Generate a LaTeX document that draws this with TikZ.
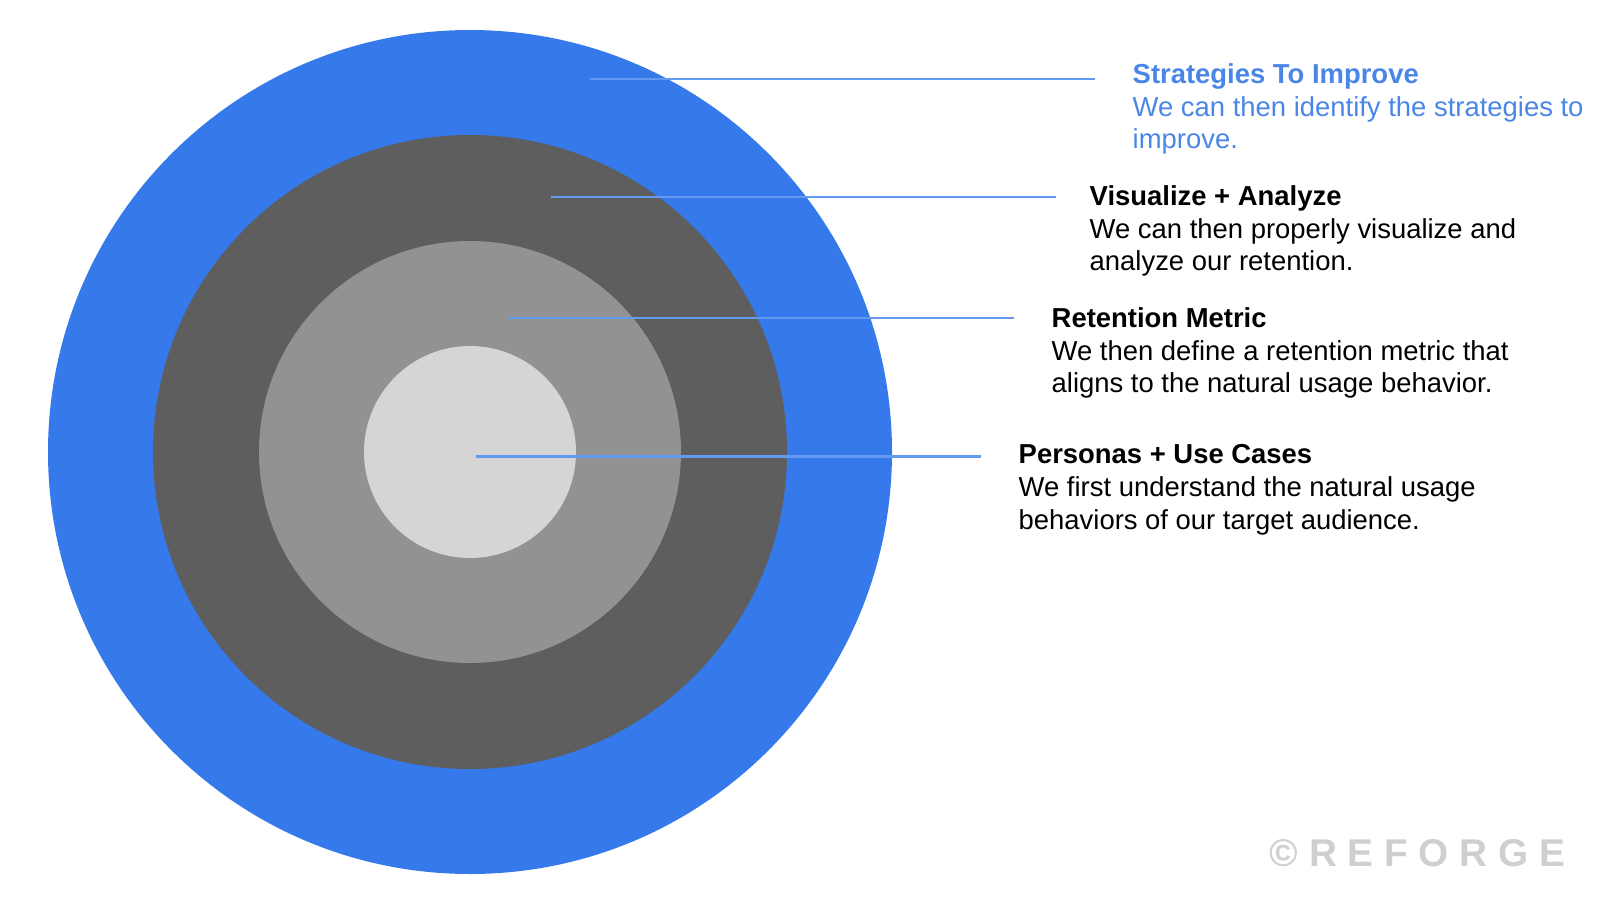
\documentclass[tikz,border=0pt]{standalone}
\usepackage{fontspec}
\setmainfont{Liberation Sans}
\definecolor{cblue}{HTML}{3579EA}
\definecolor{tblue}{HTML}{4A86E8}
\definecolor{lblue}{HTML}{6499F0}
\definecolor{cdark}{HTML}{5E5E5E}
\definecolor{cmid}{HTML}{929292}
\definecolor{clight}{HTML}{D6D5D6}
\definecolor{clogo}{HTML}{CFCFCF}
\begin{document}
\begin{tikzpicture}[x=0.01cm,y=-0.01cm,
  lbl/.style={anchor=north west,inner sep=0pt,align=left,font=\fontsize{7.8}{9.3}\selectfont},
  lead/.style={draw=lblue,line width=0.85pt}]
\useasboundingbox (0,0) rectangle (1600,900);
\fill[cblue] (470,452) circle (422);
\fill[cdark] (470,452) circle (317);
\fill[cmid] (470,452) circle (211);
\fill[clight] (470,452) circle (106);
\coordinate (s1) at (590,79); \coordinate (e1) at (1095,79);
\coordinate (s2) at (551,197); \coordinate (e2) at (1056,197);
\coordinate (s3) at (508,318); \coordinate (e3) at (1014,318);
\coordinate (s4) at (476,456); \coordinate (e4) at (981,456);
\draw[lead] (s1) -- (e1);
\draw[lead] (s2) -- (e2);
\draw[lead] (s3) -- (e3);
\draw[lead] (s4) -- (e4);
\node[lbl,text=tblue] (t1) at (1132,63) {\textbf{Strategies To Improve}\\We can then identify the strategies to\\improve.};
\node[lbl] (t2) at (1089,185) {\textbf{Visualize + Analyze}\\We can then properly visualize and\\analyze our retention.};
\node[lbl] (t3) at (1051,307) {\textbf{Retention Metric}\\We then define a retention metric that\\aligns to the natural usage behavior.};
\node[lbl] (t4) at (1018,444) {\textbf{Personas + Use Cases}\\We first understand the natural usage\\behaviors of our target audience.};
\node[anchor=base east,inner sep=0pt,text=clogo,font=\fontsize{11}{12}\selectfont\bfseries\addfontfeature{LetterSpace=28}] (logo) at (1566,866) {©REFORGE};
\end{tikzpicture}
\end{document}
